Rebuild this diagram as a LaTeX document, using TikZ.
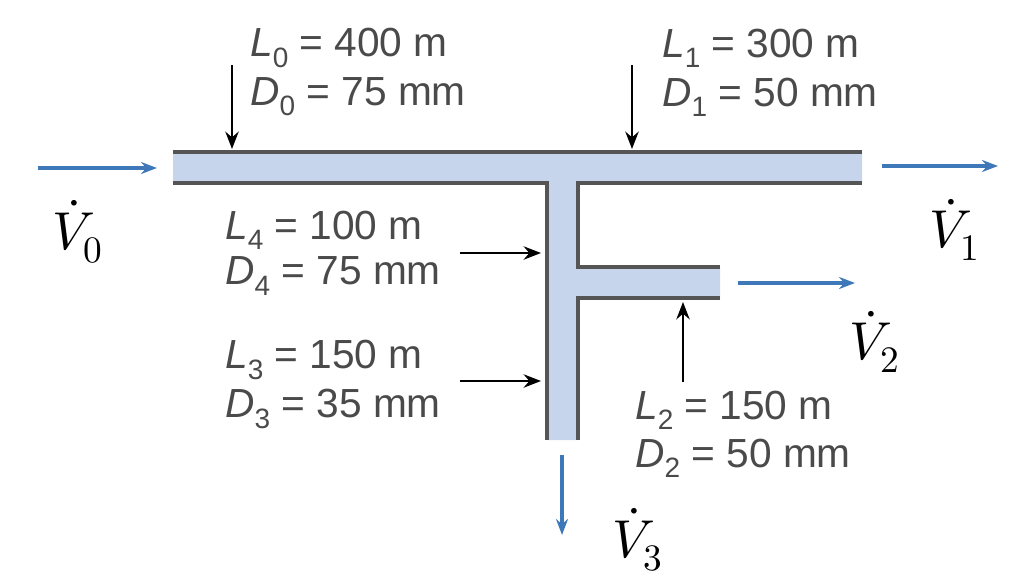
\documentclass[tikz,border=0pt]{standalone}
\usepackage{unicode-math}
\setmainfont{Liberation Sans}
\setmathfont{Latin Modern Math}
\usetikzlibrary{arrows.meta}
\definecolor{pipe}{HTML}{C6D4EC}
\definecolor{wall}{HTML}{555555}
\definecolor{flow}{HTML}{3F78B8}
\definecolor{txt}{HTML}{4A4A4A}
\tikzset{
  lbl/.style={anchor=west,inner sep=0pt,text=txt,font=\fontsize{30.5}{36}\selectfont},
  vl/.style={inner sep=0pt,font=\fontsize{40}{46}\selectfont},
  blk/.style={draw=black,line width=1.8pt,-{Stealth[length=13pt,width=10pt]}},
  flw/.style={draw=flow,line width=2.4pt,-{Stealth[length=12pt,width=9pt]}},
  wl/.style={draw=wall,line width=2.6pt}
}
\newcommand{\Lm}[1]{\textit{L}\raisebox{-0.25em}{\fontsize{21}{23}\selectfont #1}}
\newcommand{\Dm}[1]{\textit{D}\raisebox{-0.25em}{\fontsize{21}{23}\selectfont #1}}
\begin{document}
\begin{tikzpicture}[x=0.75pt,y=-0.75pt]
\useasboundingbox (0,0) rectangle (1024,586);
\fill[pipe] (173,152) -- (862,152) -- (862,183) -- (578,183) -- (578,267) -- (720,267) -- (720,298) -- (578,298) -- (578,440) -- (547,440) -- (547,183) -- (173,183) -- cycle;
\draw[wl] (173,152) -- (862,152);
\draw[wl] (173,183) -- (547,183) -- (547,440);
\draw[wl] (862,183) -- (578,183) -- (578,267) -- (720,267);
\draw[wl] (720,298) -- (578,298) -- (578,440);
\coordinate (a0) at (38,168); \coordinate (b0) at (157,168);
\coordinate (a1) at (882,166); \coordinate (b1) at (998,166);
\coordinate (a2) at (738,283); \coordinate (b2) at (855,283);
\coordinate (a3) at (562,455); \coordinate (b3) at (562,535);
\draw[flw] (a0) -- (b0);
\draw[flw] (a1) -- (b1);
\draw[flw] (a2) -- (b2);
\draw[flw] (a3) -- (b3);
\coordinate (p0) at (232,65); \coordinate (q0) at (232,149);
\coordinate (p1) at (632,65); \coordinate (q1) at (632,149);
\coordinate (p4) at (460,253); \coordinate (q4) at (541,253);
\coordinate (p3) at (460,381); \coordinate (q3) at (541,381);
\coordinate (p2) at (683,382); \coordinate (q2) at (683,302);
\draw[blk] (p0) -- (q0);
\draw[blk] (p1) -- (q1);
\draw[blk] (p4) -- (q4);
\draw[blk] (p3) -- (q3);
\draw[blk] (p2) -- (q2);
\node[lbl] (l0) at (250,48) {\Lm{0} = 400 m};
\node[lbl] (d0) at (250,97) {\Dm{0} = 75 mm};
\node[lbl] (l1) at (662,48) {\Lm{1} = 300 m};
\node[lbl] (d1) at (662,97) {\Dm{1} = 50 mm};
\node[lbl] (l4) at (225,230) {\Lm{4} = 100 m};
\node[lbl] (d4) at (225,276) {\Dm{4} = 75 mm};
\node[lbl] (l3) at (225,360) {\Lm{3} = 150 m};
\node[lbl] (d3) at (225,409) {\Dm{3} = 35 mm};
\node[lbl] (l2) at (635,410) {\Lm{2} = 150 m};
\node[lbl] (d2) at (635,458) {\Dm{2} = 50 mm};
\node[vl] (v0) at (78,232) {$\dot V_0$};
\node[vl] (v1) at (955,230) {$\dot V_1$};
\node[vl] (v2) at (875,342) {$\dot V_2$};
\node[vl] (v3) at (638,540) {$\dot V_3$};
\end{tikzpicture}
\end{document}
